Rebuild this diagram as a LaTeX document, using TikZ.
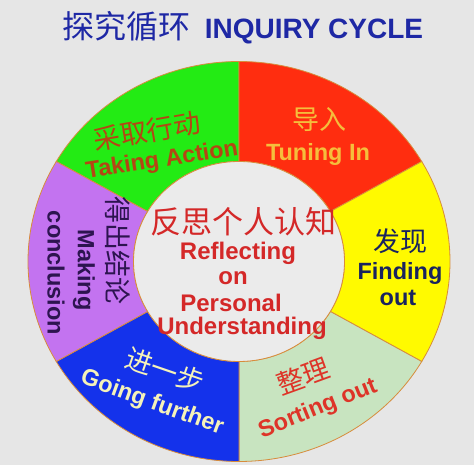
\documentclass[tikz,border=0pt]{standalone}
\usepackage{fontspec}
\setmainfont{Liberation Sans}
\newfontfamily\cjk{Noto Sans CJK SC}
\definecolor{bgcol}{RGB}{230,230,230}
\definecolor{hubcol}{RGB}{235,235,235}
\definecolor{rimcol}{RGB}{215,140,60}
\definecolor{takecol}{RGB}{35,235,20}
\definecolor{tunecol}{RGB}{255,45,15}
\definecolor{findcol}{RGB}{255,250,0}
\definecolor{sortcol}{RGB}{200,228,192}
\definecolor{gocol}{RGB}{20,50,235}
\definecolor{makecol}{RGB}{195,115,240}
\definecolor{titletext}{RGB}{30,40,165}
\definecolor{taketext}{RGB}{180,70,20}
\definecolor{tunetext}{RGB}{245,190,60}
\definecolor{findtext}{RGB}{25,35,95}
\definecolor{sorttext}{RGB}{222,52,40}
\definecolor{gotext}{RGB}{245,242,185}
\definecolor{maketext}{RGB}{45,20,80}
\definecolor{hubtext}{RGB}{212,40,40}
\begin{document}
\begin{tikzpicture}[x=1pt,y=1pt,
    en/.style={font=\fontsize{23.5}{26}\selectfont\bfseries,inner sep=0pt},
    zh/.style={font=\fontsize{27}{29}\selectfont\cjk,inner sep=0pt}]
        \useasboundingbox (0,0) rectangle (474,465);
        \fill[bgcol] (0,0) rectangle (474,465);

        \node[font=\fontsize{28}{30}\selectfont\bfseries,text=titletext] (title) at (243,437)
          {{\fontsize{32}{34}\selectfont\mdseries\cjk 探究循环}\hspace{14pt}INQUIRY CYCLE};

        \begin{scope}[shift={(239,203.5)},xscale=1.055,draw=rimcol,line width=0.8pt]
          \filldraw[fill=takecol] (90:100) -- (90:200) arc[start angle=90,end angle=150,radius=200] -- (150:100) arc[start angle=150,end angle=90,radius=100] -- cycle;
          \filldraw[fill=tunecol] (30:100) -- (30:200) arc[start angle=30,end angle=90,radius=200] -- (90:100) arc[start angle=90,end angle=30,radius=100] -- cycle;
          \filldraw[fill=findcol] (-30:100) -- (-30:200) arc[start angle=-30,end angle=30,radius=200] -- (30:100) arc[start angle=30,end angle=-30,radius=100] -- cycle;
          \filldraw[fill=sortcol] (-90:100) -- (-90:200) arc[start angle=-90,end angle=-30,radius=200] -- (-30:100) arc[start angle=-30,end angle=-90,radius=100] -- cycle;
          \filldraw[fill=gocol] (-150:100) -- (-150:200) arc[start angle=-150,end angle=-90,radius=200] -- (-90:100) arc[start angle=-90,end angle=-150,radius=100] -- cycle;
          \filldraw[fill=makecol] (150:100) -- (150:200) arc[start angle=150,end angle=210,radius=200] -- (210:100) arc[start angle=210,end angle=150,radius=100] -- cycle;
          \filldraw[fill=hubcol] (0,0) circle[radius=100];
        \end{scope}

        \begin{scope}[every node/.append style={text=taketext}]
          \node[zh,rotate=10] (takezh) at (147,334) {采取行动};
          \node[en,rotate=9] (takeen) at (162,304) {Taking Action};
        \end{scope}
        \begin{scope}[every node/.append style={text=tunetext}]
          \node[zh] (tunezh) at (319,346) {导入};
          \node[en] (tuneen) at (318,311) {Tuning In};
        \end{scope}
        \begin{scope}[every node/.append style={text=findtext}]
          \node[zh] (findzh) at (400,224) {发现};
          \node[en] (finden) at (400,192) {Finding};
          \node[en] (findout) at (398,167) {out};
        \end{scope}
        \begin{scope}[every node/.append style={text=sorttext}]
          \node[zh,rotate=20] (sortzh) at (303,89) {整理};
          \node[en,rotate=22] (sorten) at (318,56) {Sorting out};
        \end{scope}
        \begin{scope}[every node/.append style={text=gotext}]
          \node[zh,rotate=-19] (gozh) at (165,95) {进一步};
          \node[en,rotate=-20] (goen) at (152,62) {Going further};
        \end{scope}
        \begin{scope}[every node/.append style={text=maketext,rotate=-90}]
          \node[zh] (makezh) at (118,214) {得出结论};
          \node[en] (makeen) at (84,195) {Making};
          \node[en] (makeconc) at (56,192) {conclusion};
        \end{scope}
        \begin{scope}[every node/.append style={text=hubtext}]
          \node[zh,font=\fontsize{31}{33}\selectfont\cjk] (hubzh) at (243,243) {反思个人认知};
          \node[en,font=\fontsize{24}{26}\selectfont\bfseries] (hubrefl) at (238,212) {Reflecting};
          \node[en,font=\fontsize{24}{26}\selectfont\bfseries] (hubon) at (233,187) {on};
          \node[en,font=\fontsize{24}{26}\selectfont\bfseries] (hubpers) at (231,162) {Personal};
          \node[en,font=\fontsize{24}{26}\selectfont\bfseries] (hubund) at (242,137) {Understanding};
        \end{scope}
\end{tikzpicture}
\end{document}
